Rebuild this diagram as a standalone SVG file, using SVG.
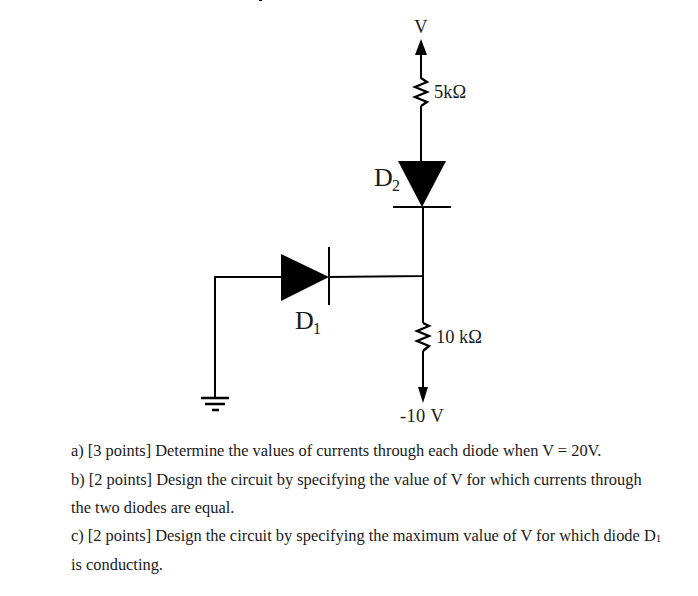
<svg xmlns="http://www.w3.org/2000/svg" width="698" height="596" viewBox="0 0 698 596">
<style>
text{font-family:"Liberation Serif","Times New Roman",serif;fill:#1a1a1a}
.w{fill:none;stroke:#000;stroke-width:2}
.r{fill:none;stroke:#000;stroke-width:2.3}
.g{fill:none;stroke:#000;stroke-width:2.6}
.f{fill:#000;stroke:none}
.q{font-size:16.4px}
.l{font-size:18.4px}
.d{font-size:26px}
.s{font-size:16px}
</style>
<rect width="698" height="596" fill="#fff"/>
<g id="connectors">
<path class="w" d="M421 54V79M421 106V162"/>
<path class="w" d="M423 207V276M423 276L329 277M281 277H215V397"/>
<path class="w" d="M423 276V323M423 351V388"/>
</g>
<g id="source-v"><path class="f" d="M421 39L427 55H415Z"/><text class="l" x="421" y="33" text-anchor="middle">V</text></g>
<g id="r1"><path class="r" d="M421 78L427 82L415 87L427 92L415 97L427 102L421 106"/><text class="l" x="434" y="98">5kΩ</text></g>
<g id="d2"><path class="f" d="M398 161H446L422 207Z"/><path class="w" d="M393 207H451"/><text class="d" x="374" y="186">D</text><text class="s" x="392" y="191">2</text></g>
<g id="d1"><path class="f" d="M281 254L329 277L281 301Z"/><path class="w" d="M329 247V305"/><text class="d" x="295" y="329">D</text><text class="s" x="313" y="334">1</text></g>
<g id="r2"><path class="r" d="M423 323L429 326L417 331L429 336L417 341L429 346L423 351"/><text class="l" x="436" y="343">10 kΩ</text></g>
<g id="source-neg"><path class="f" d="M418 387H428L423 403Z"/><text class="l" x="400" y="422" letter-spacing="0.4">-10 V</text></g>
<g id="ground"><path class="g" d="M201 398H229M205 404H225M212 410H219"/></g>
<g id="questions">
<text class="q" x="71" y="456">a) [3 points] Determine the values of currents through each diode when V = 20V.</text>
<text class="q" x="71" y="485">b) [2 points] Design the circuit by specifying the value of V for which currents through</text>
<text class="q" x="71" y="513">the two diodes are equal.</text>
<text class="q" x="71" y="541">c) [2 points] Design the circuit by specifying the maximum value of V for which diode D<tspan font-size="11" dy="1">1</tspan></text>
<text class="q" x="71" y="570">is conducting.</text>
</g>
<path id="top-mark" class="f" d="M259 0h3v1h-3z"/>
</svg>
